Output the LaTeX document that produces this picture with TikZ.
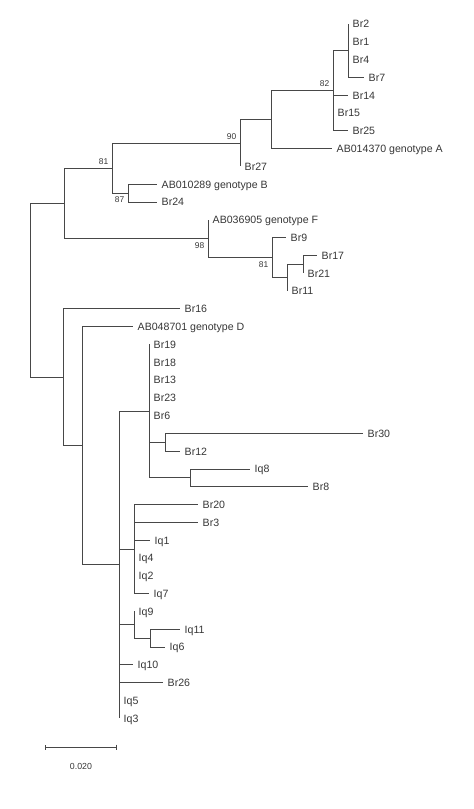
\documentclass[tikz,border=0pt]{standalone}
\usepackage{fontspec}
\setmainfont{Liberation Sans}
\usepackage{xcolor}
\usepackage{tikz}
\usetikzlibrary{arrows.meta}
\definecolor{branch}{HTML}{474747}
\definecolor{tiptext}{HTML}{363636}

\begin{document}
\begin{tikzpicture}[x=1pt,y=-1pt,
  leaf/.style={anchor=west,inner xsep=4.5pt,inner ysep=0pt,text height=7.7pt,text depth=0pt,font=\fontsize{10.6}{12}\selectfont,text=tiptext},
  boot/.style={inner sep=3.5pt,font=\fontsize{8.4}{9}\selectfont,text=tiptext},
  edge/.style={branch,line width=1pt}]
  \useasboundingbox (0,0) rectangle (474,809);
  % leaves: name/branch tip x/row/label
  \foreach \n/\x/\r/\t in {Br2/348/0/Br2,Br1/348/1/Br1,Br4/348/2/Br4,Br7/364/3/Br7,
      Br14/348/4/Br14,Br15/333/5/Br15,Br25/348/6/Br25,gA/332/7/AB014370 genotype A,
      Br27/240/8/Br27,gB/157/9/AB010289 genotype B,Br24/157/10/Br24,
      gF/208/11/AB036905 genotype F,Br9/286/12/Br9,Br17/317/13/Br17,Br21/303/14/Br21,
      Br11/287/15/Br11,Br16/180/16/Br16,gD/133/17/AB048701 genotype D,
      Br19/149/18/Br19,Br18/149/19/Br18,Br13/149/20/Br13,Br23/149/21/Br23,Br6/149/22/Br6,
      Br30/363/23/Br30,Br12/180/24/Br12,Iq8/250/25/Iq8,Br8/308/26/Br8,
      Br20/198/27/Br20,Br3/198/28/Br3,Iq1/150/29/Iq1,Iq4/134/30/Iq4,Iq2/134/31/Iq2,
      Iq7/149/32/Iq7,Iq9/134/33/Iq9,Iq11/180/34/Iq11,Iq6/165/35/Iq6,Iq10/133/36/Iq10,
      Br26/163/37/Br26,Iq5/119/38/Iq5,Iq3/119/39/Iq3} {
    \node[leaf] (\n) at (\x,{24+17.8*\r}) {\t};
  }
  % internal nodes (x = branch point, y = middle of children)
  % genotype A clade
  \coordinate (nBr2) at (348,50.7);
  \coordinate (n82) at (333,90.75);
  \coordinate (nA) at (271,119.7);
  \coordinate (n90) at (240,143.05);
  % genotype B
  \coordinate (n87) at (128,193.1);
  \coordinate (n81) at (112,168.1);
  % genotype F
  \coordinate (n303) at (303,264.3);
  \coordinate (n287) at (287,277.65);
  \coordinate (n81F) at (272,257.6);
  \coordinate (n98) at (208,238.7);
  \coordinate (nTop) at (64,203.4);
  % genotype D
  \coordinate (nBr30) at (165,442.3);
  \coordinate (nIq8) at (190,477.9);
  \coordinate (nBr19) at (149,411.15);
  \coordinate (nBr20) at (134,549.1);
  \coordinate (nIq11) at (150,638.1);
  \coordinate (nIq9) at (134,624.75);
  \coordinate (nIq) at (119,564.7);
  \coordinate (nD) at (82,445.65);
  \coordinate (nBr16) at (63,377.2);
  \coordinate (root) at (30,290.3);
  % branches
  \foreach \p/\c in {nBr2/Br2,nBr2/Br1,nBr2/Br4,nBr2/Br7,
      n82/nBr2,n82/Br14,n82/Br15,n82/Br25,nA/n82,nA/gA,n90/nA,n90/Br27,
      n87/gB,n87/Br24,n81/n90,n81/n87,
      n303/Br17,n303/Br21,n287/n303,n287/Br11,n81F/Br9,n81F/n287,n98/gF,n98/n81F,
      nTop/n81,nTop/n98,
      nBr30/Br30,nBr30/Br12,nIq8/Iq8,nIq8/Br8,
      nBr19/Br19,nBr19/Br18,nBr19/Br13,nBr19/Br23,nBr19/Br6,nBr19/nBr30,nBr19/nIq8,
      nBr20/Br20,nBr20/Br3,nBr20/Iq1,nBr20/Iq4,nBr20/Iq2,nBr20/Iq7,
      nIq11/Iq11,nIq11/Iq6,nIq9/Iq9,nIq9/nIq11,
      nIq/nBr19,nIq/nBr20,nIq/nIq9,nIq/Iq10,nIq/Br26,nIq/Iq5,nIq/Iq3,
      nD/gD,nD/nIq,nBr16/Br16,nBr16/nD,root/nTop,root/nBr16} {
    \draw[edge] (\p) |- (\c);
  }
  % bootstrap values
  \node[boot,above left] (b82) at (n82) {82};
  \node[boot,above left] (b90) at (n90) {90};
  \node[boot,above left] (b81) at (n81) {81};
  \node[boot,below left] (b87) at (n87) {87};
  \node[boot,below left] (b98) at (n98) {98};
  \node[boot,below left] (b81F) at (n81F) {81};
  % scale bar
  \coordinate (sbL) at (45,747);
  \coordinate (sbR) at (117,747);
  \draw[edge,{Bar[width=5pt]}-{Bar[width=5pt]}] (sbL) -- (sbR);
  \node[text=tiptext,font=\fontsize{8.8}{10}\selectfont] (sbText) at (81,766) {0.020};
\end{tikzpicture}
\end{document}
